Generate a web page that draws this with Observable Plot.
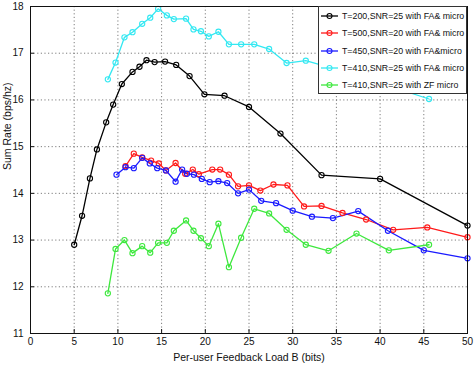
<!DOCTYPE html>
<html>
<head>
<meta charset="utf-8">
<script src="https://cdn.jsdelivr.net/npm/d3@7"></script>
<script src="https://cdn.jsdelivr.net/npm/@observablehq/plot@0.6"></script>
<style>
  html, body { margin: 0; padding: 0; background: #fff; }
  #wrap { position: relative; width: 474px; height: 365px; font-family: "Liberation Sans", Arial, sans-serif; }
  #legend { position: absolute; left: 318px; top: 6px; width: 149px; height: 88px; background: #fff; border: 1px solid #333; box-sizing: border-box; font-size: 8.8px; color: #111; }
  .row { position: absolute; left: 0; height: 12px; display: flex; align-items: center; white-space: nowrap; }
  .row svg { margin-left: 2px; margin-right: 4px; }
</style>
</head>
<body>
<div id="wrap"></div>
<script>
// ---- data ----
const seriesNames = [
  "T=200,SNR=25 with FA& micro",
  "T=500,SNR=20 with FA& micro",
  "T=450,SNR=20 with FA&micro",
  "T=410,SNR=25 with FA& micro",
  "T=410,SNR=25 with ZF micro"
];
const seriesColors = ["#000000", "#ff1a1a", "#1a1aff", "#33e8f2", "#3ee83e"];

const blackX = [5, 5.9, 6.8, 7.6, 8.66, 9.46, 10.45, 11.67, 12.47, 13.27, 14.2, 15.4, 16.67, 18.2, 19.9, 22.2, 25.0, 28.6, 33.3, 40.0, 50.0];
const blackY = [12.9, 13.52, 14.32, 14.94, 15.52, 15.9, 16.34, 16.6, 16.71, 16.85, 16.81, 16.82, 16.75, 16.51, 16.12, 16.09, 15.85, 15.28, 14.39, 14.31, 13.31];

const redX = [10.87, 11.82, 12.78, 13.8, 14.68, 15.5, 16.6, 17.7, 18.57, 19.26, 20.8, 21.7, 22.7, 23.75, 25.0, 26.3, 27.8, 29.4, 31.3, 33.3, 35.7, 38.4, 41.5, 45.4, 50.0];
const redY = [14.58, 14.85, 14.77, 14.70, 14.64, 14.49, 14.65, 14.42, 14.51, 14.41, 14.51, 14.51, 14.40, 14.15, 14.17, 14.06, 14.19, 14.17, 13.72, 13.73, 13.58, 13.44, 13.22, 13.27, 13.06];

const blueX = [9.84, 10.87, 11.82, 12.78, 13.65, 14.5, 15.5, 16.6, 17.35, 17.9, 18.7, 19.6, 20.5, 21.5, 22.5, 23.75, 25.0, 26.4, 28.1, 30.0, 32.2, 34.6, 37.5, 40.9, 45.0, 50.0];
const blueY = [14.40, 14.56, 14.54, 14.76, 14.64, 14.54, 14.49, 14.25, 14.51, 14.42, 14.40, 14.31, 14.24, 14.26, 14.22, 14.00, 14.08, 13.84, 13.79, 13.63, 13.50, 13.47, 13.62, 13.20, 12.78, 12.61];

const cyanX = [8.85, 9.73, 10.75, 11.67, 12.78, 13.7, 14.6, 15.6, 16.4, 17.8, 18.65, 19.5, 20.4, 21.5, 22.7, 24.1, 25.6, 27.3, 29.3, 31.5, 34.1, 37.3, 41.0, 45.6];
const cyanY = [16.44, 16.8, 17.34, 17.45, 17.63, 17.76, 17.95, 17.81, 17.73, 17.74, 17.51, 17.47, 17.36, 17.46, 17.19, 17.19, 17.19, 17.09, 16.79, 16.84, 16.7, 16.5, 16.3, 16.02];

const greenX = [8.85, 9.73, 10.75, 11.67, 12.78, 13.7, 14.6, 15.6, 16.4, 17.8, 18.65, 19.5, 20.4, 21.5, 22.7, 24.1, 25.6, 27.3, 29.3, 31.5, 34.1, 37.3, 41.0, 45.6];
const greenY = [11.86, 12.81, 13.0, 12.72, 12.87, 12.73, 12.94, 12.94, 13.2, 13.42, 13.2, 13.04, 12.87, 13.35, 12.42, 13.05, 13.67, 13.57, 13.22, 12.90, 12.77, 13.14, 12.78, 12.90];

const xTicks = [0, 5, 10, 15, 20, 25, 30, 35, 40, 45, 50];
const yTicks = [11, 12, 13, 14, 15, 16, 17, 18];
const xLabel = "Per-user Feedback Load B (bits)";
const yLabel = "Sum Rate (bps/hz)";

// ---- build table ----
const allX = [blackX, redX, blueX, cyanX, greenX];
const allY = [blackY, redY, blueY, cyanY, greenY];
const rows = [];
allX.forEach((xs, i) => xs.forEach((x, j) => rows.push({x, y: allY[i][j], s: seriesNames[i]})));

const font = "'Liberation Sans', Arial, sans-serif";
const chart = Plot.plot({
  width: 474,
  height: 365,
  marginLeft: 30,
  marginRight: 7,
  marginTop: 6,
  marginBottom: 32,
  style: {fontFamily: font, fontSize: "10px", background: "#fff", color: "#111"},
  x: {domain: [0, 50], ticks: xTicks, label: null},
  y: {domain: [11, 18], ticks: yTicks, label: null},
  color: {domain: seriesNames, range: seriesColors},
  marks: [
    Plot.gridX(xTicks, {stroke: "#555", strokeOpacity: 0.85, strokeDasharray: "1.2,2.4", strokeWidth: 0.9}),
    Plot.gridY(yTicks, {stroke: "#555", strokeOpacity: 0.85, strokeDasharray: "1.2,2.4", strokeWidth: 0.9}),
    Plot.line(rows, {x: "x", y: "y", z: "s", stroke: "s", strokeWidth: 1.3}),
    Plot.dot(rows, {x: "x", y: "y", stroke: "s", r: 2.6, strokeWidth: 1.1, fill: "none"}),
    Plot.frame({stroke: "#111", strokeWidth: 1}),
    Plot.axisX(xTicks, {tickSize: 0, tickPadding: 4, fontSize: 10, label: null}),
    Plot.axisY(yTicks, {tickSize: 0, tickPadding: 7, fontSize: 10, label: null}),
    Plot.axisX(xTicks, {tickSize: -4, text: null, label: null, anchor: "bottom"}),
    Plot.axisY(yTicks, {tickSize: -4, text: null, label: null, anchor: "left"}),
    Plot.text([xLabel], {frameAnchor: "bottom", dy: 27, fontSize: 10.5, text: d => d}),
    Plot.text([yLabel], {frameAnchor: "left", dx: -23, rotate: -90, fontSize: 10.5, text: d => d})
  ]
});

const wrap = document.getElementById("wrap");
wrap.appendChild(chart);

// legend overlay
const legend = document.createElement("div");
legend.id = "legend";
const rowTops = [2.7, 20.3, 38, 55.3, 72];
seriesNames.forEach((name, i) => {
  const r = document.createElement("div");
  r.className = "row";
  r.style.top = rowTops[i] + "px";
  r.innerHTML = `<svg width="17" height="8"><line x1="0" y1="4" x2="17" y2="4" stroke="${seriesColors[i]}" stroke-width="1.3"/><circle cx="8.5" cy="4" r="2.5" fill="none" stroke="${seriesColors[i]}" stroke-width="1.1"/></svg>`;
  const span = document.createElement("span");
  span.textContent = name;
  r.appendChild(span);
  legend.appendChild(r);
});
wrap.appendChild(legend);
</script>
</body>
</html>
